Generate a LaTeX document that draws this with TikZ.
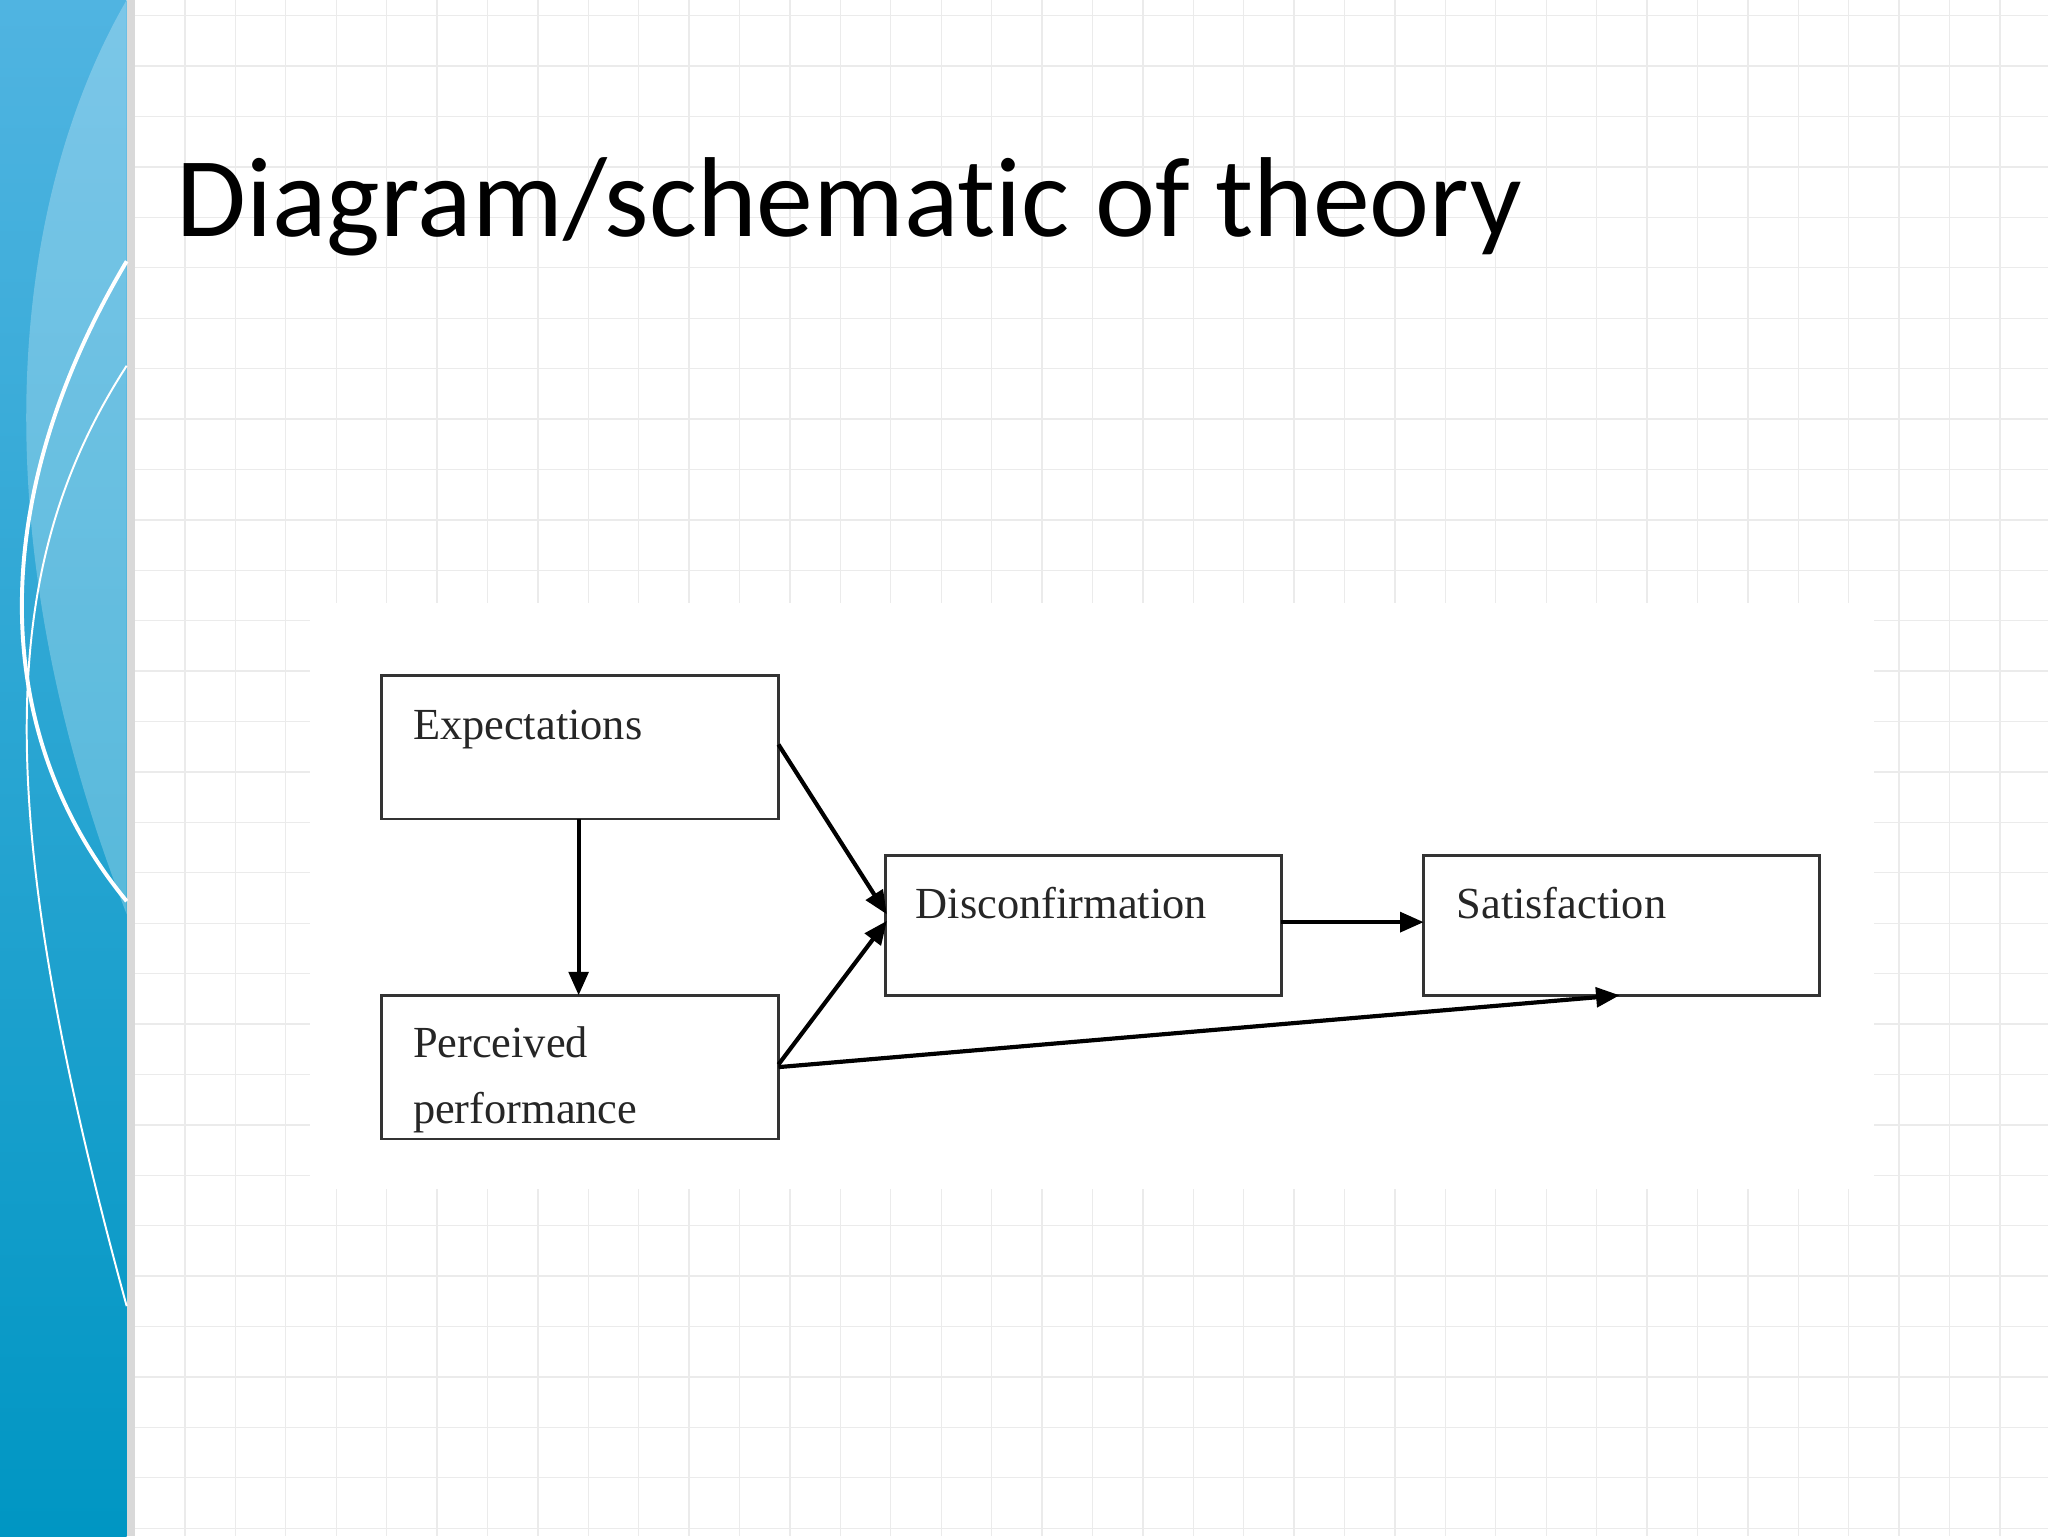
\documentclass[tikz,border=0pt]{standalone}
\usepackage{fontspec}
\setmainfont{Liberation Serif}
\newfontfamily\titlefont[Ligatures=NoCommon,Contextuals=NoAlternate]{Carlito}
\usetikzlibrary{arrows.meta}
\begin{document}
\begin{tikzpicture}[x=1pt,y=-1pt,
  box/.style={draw=black!80,line width=2pt,fill=white},
  lab/.style={anchor=base west,font=\fontsize{34}{50}\selectfont,text=black!85,align=left,inner sep=0pt},
  arr/.style={line width=3.2pt,-{Triangle[length=18pt,width=15pt]}}]
\useasboundingbox (0,0) rectangle (1568,1176);
\fill[white] (0,0) rectangle (1568,1176);
\foreach \i in {0,...,38}{\draw[black!8,line width=1pt] (103+38.6*\i,0) -- (103+38.6*\i,1176);}
\foreach \j in {0,...,30}{\draw[black!8,line width=1pt] (97,12+38.6*\j) -- (1568,12+38.6*\j);}
% left band
\shade[top color={rgb,255:red,80;green,180;blue,225},bottom color={rgb,255:red,0;green,150;blue,195}] (0,0) rectangle (97,1176);
\fill[black!15] (97,0) rectangle (103,1176);
\fill[white,opacity=0.25] (97,0) .. controls (10,150) and (-20,400) .. (97,700) -- (97,0);
\draw[white,line width=3pt] (97,690) .. controls (-10,560) and (-10,380) .. (97,200);
\draw[white,line width=1.5pt] (97,280) .. controls (0,430) and (-10,610) .. (97,1000);
\node[anchor=base west,inner sep=0pt,font=\titlefont\fontsize{87}{95}\selectfont] (title) at (135,181) {Diagram/schematic of theory};
% panel
\fill[white] (237,462) rectangle (1435,910);
\draw[box] (292,517) rectangle (596,627);
\draw[box] (292,762) rectangle (596,872);
\draw[box] (678,655) rectangle (981,762);
\draw[box] (1090,655) rectangle (1393,762);
\node[lab] (exp) at (316,566) {Expectations};
\node[lab] (per) at (316,860) {Perceived\\performance};
\node[lab] (dis) at (701,703) {Disconfirmation};
\node[lab] (sat) at (1115,703) {Satisfaction};
\coordinate (a1) at (443,627); \coordinate (a2) at (443,762);
\coordinate (b1) at (596,570); \coordinate (b2) at (679,700);
\coordinate (c1) at (596,815); \coordinate (c2) at (679,705);
\coordinate (d1) at (981,706); \coordinate (d2) at (1090,706);
\coordinate (f1) at (596,817); \coordinate (f2) at (1240,762);
\draw[arr] (a1) -- (a2);
\draw[arr] (b1) -- (b2);
\draw[arr] (c1) -- (c2);
\draw[arr] (d1) -- (d2);
\draw[arr] (f1) -- (f2);
\end{tikzpicture}
\end{document}
